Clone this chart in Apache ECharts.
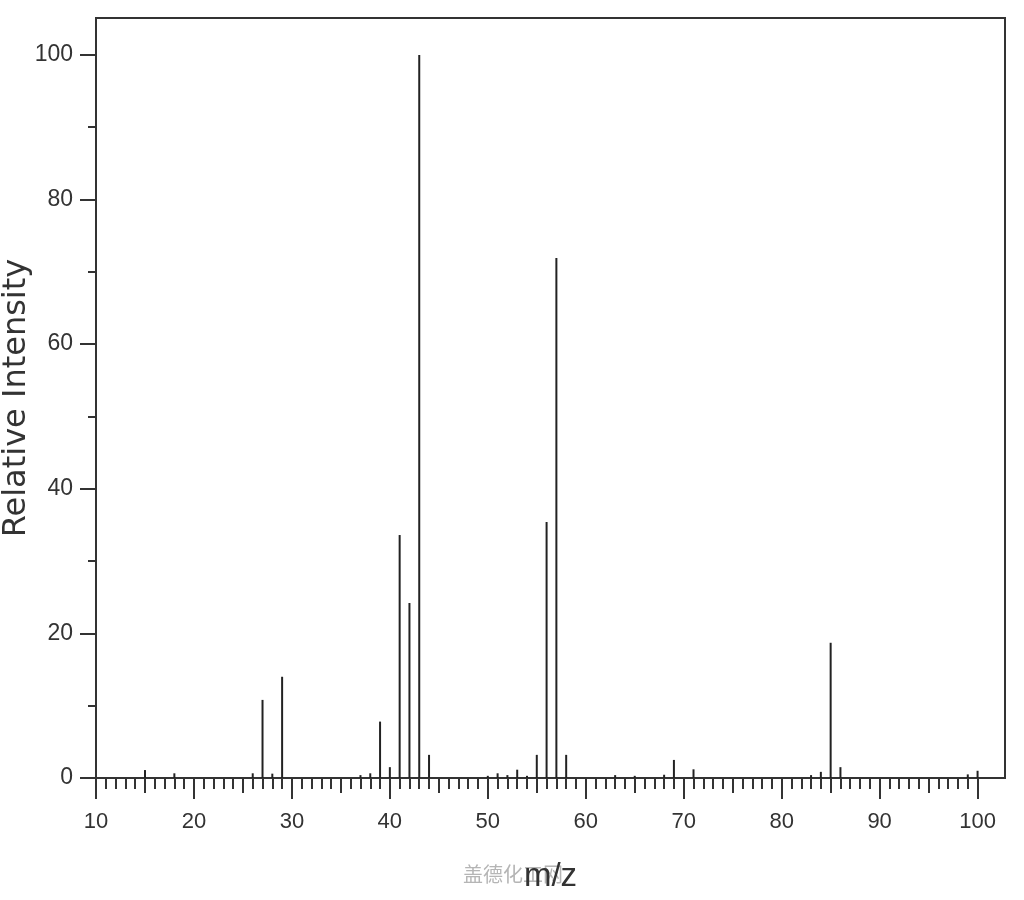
<!DOCTYPE html>
<html>
<head>
<meta charset="utf-8">
<script src="https://cdn.jsdelivr.net/npm/echarts@6/dist/echarts.min.js"></script>
<style>html,body{margin:0;padding:0;background:#fff;}#c{width:1024px;height:900px;}</style>
</head>
<body>
<div id="c"></div>
<script>
// m/z values and relative intensities
const mz =        [15, 18, 26, 27, 28, 29, 37, 38, 39, 40, 41, 42, 43, 44, 50, 51, 52, 53, 54, 55, 56, 57, 58, 63, 65, 68, 69, 71, 83, 84, 85, 86, 99, 100];
const intensity = [1.1,0.65,0.65,10.8,0.6,14.0,0.4,0.65,7.8,1.5,33.6,24.2,100,3.2,0.3,0.65,0.4,1.15,0.3,3.2,35.4,71.9,3.2,0.4,0.3,0.45,2.5,1.2,0.4,0.85,18.7,1.5,0.5,1.0];

// axis ticks
const xMajorTicks = [10, 20, 30, 40, 50, 60, 70, 80, 90, 100];
const xMidTicks = [15, 25, 35, 45, 55, 65, 75, 85, 95];
const xMinorTicks = [11, 12, 13, 14, 16, 17, 18, 19, 21, 22, 23, 24, 26, 27, 28, 29,
  31, 32, 33, 34, 36, 37, 38, 39, 41, 42, 43, 44, 46, 47, 48, 49, 51, 52, 53, 54, 56, 57, 58, 59,
  61, 62, 63, 64, 66, 67, 68, 69, 71, 72, 73, 74, 76, 77, 78, 79, 81, 82, 83, 84, 86, 87, 88, 89,
  91, 92, 93, 94, 96, 97, 98, 99];
const yMajorTicks = [0, 20, 40, 60, 80, 100];
const yMinorTicks = [10, 30, 50, 70, 90];

const xTitle = 'm/z';
const yTitle = 'Relative Intensity';
const watermark = '盖德化工网';

const X_MIN = 10, X_MAX = 102.8, Y_MIN = 0, Y_MAX = 105.1;
const ink = '#333';
const font = 'Liberation Sans';

const chart = echarts.init(document.getElementById('c'), null, {renderer: 'canvas'});

function xAx(ticks, len, withLabels, extra) {
  return Object.assign({
    type: 'value', position: 'bottom', gridIndex: 0,
    min: X_MIN, max: X_MAX,
    axisLine: {show: withLabels, lineStyle: {color: ink, width: 2}},
    axisTick: {show: true, customValues: ticks, length: len, lineStyle: {color: ink, width: 2}},
    axisLabel: withLabels ? {show: true, customValues: ticks, color: ink, fontFamily: font, fontSize: 22, margin: 33} : {show: false},
    splitLine: {show: false},
    minorTick: {show: false}
  }, extra || {});
}
function yAx(ticks, len, withLabels, extra) {
  return Object.assign({
    type: 'value', position: 'left', gridIndex: 0,
    min: Y_MIN, max: Y_MAX,
    axisLine: {show: withLabels, lineStyle: {color: ink, width: 2}},
    axisTick: {show: true, customValues: ticks, length: len, lineStyle: {color: ink, width: 2}},
    axisLabel: withLabels ? {show: true, customValues: ticks, color: ink, fontFamily: font, fontSize: 23, margin: 23} : {show: false},
    splitLine: {show: false},
    minorTick: {show: false}
  }, extra || {});
}

chart.setOption({
  animation: false,
  backgroundColor: '#fff',
  grid: {left: 96, right: 19, top: 18, bottom: 122, show: true, borderColor: ink, borderWidth: 2,
         backgroundColor: 'transparent', containLabel: false, outerBoundsMode: 'none'},
  xAxis: [
    xAx(xMajorTicks, 21, true, {name: xTitle, nameLocation: 'middle', nameGap: 82, nameMoveOverlap: false,
      nameTextStyle: {color: ink, fontFamily: font, fontSize: 33}}),
    xAx(xMidTicks, 15, false),
    xAx(xMinorTicks, 11, false)
  ],
  yAxis: [
    yAx(yMajorTicks, 16, true, {name: yTitle, nameLocation: 'middle', nameGap: 63, nameRotate: 90, nameMoveOverlap: false,
      nameTextStyle: {color: ink, fontFamily: 'DejaVu Sans', fontSize: 32}}),
    yAx(yMinorTicks, 8, false)
  ],
  graphic: [{
    type: 'text', left: 463, top: 864, z: 0,
    style: {text: watermark, fill: '#b5b5b5', fontSize: 20, fontFamily: 'Noto Sans CJK SC'}
  }],
  series: [{
    type: 'bar', xAxisIndex: 0, yAxisIndex: 0,
    barWidth: 2,
    itemStyle: {color: '#222'},
    data: mz.map((m, i) => [m, intensity[i]])
  }]
});
</script>
</body>
</html>
